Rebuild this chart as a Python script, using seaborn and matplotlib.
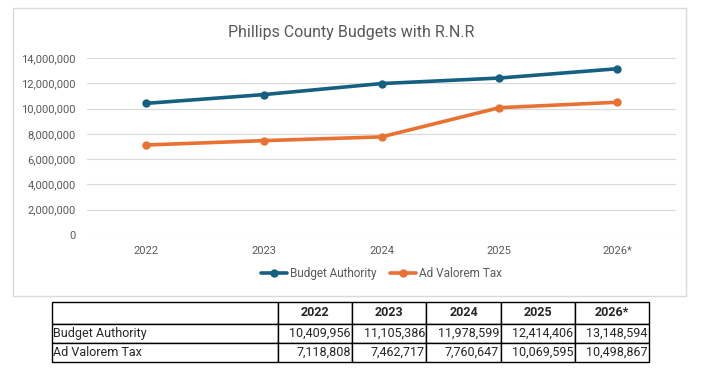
import matplotlib
matplotlib.use("Agg")
import matplotlib.pyplot as plt
import pandas as pd
import seaborn as sns
from matplotlib.patches import Rectangle
from matplotlib.ticker import FuncFormatter

years = ["2022", "2023", "2024", "2025", "2026*"]
budget_authority = [10409956, 11105386, 11978599, 12414406, 13148594]
ad_valorem_tax = [7118808, 7462717, 7760647, 10069595, 10498867]
series_names = ["Budget Authority", "Ad Valorem Tax"]
colors = ["#156082", "#E97132"]


def main():
    sns.set_style("white")
    plt.rcParams["font.family"] = ["Roboto", "DejaVu Sans"]

    df = pd.DataFrame({"Year": years * 2,
                       "Value": budget_authority + ad_valorem_tax,
                       "Series": [series_names[0]] * 5 + [series_names[1]] * 5})

    fig = plt.figure(figsize=(7.03, 3.82), dpi=100)
    fig.patches.append(Rectangle((13 / 703, 1 - 296 / 382), 673 / 703, 288 / 382,
                                 transform=fig.transFigure, fill=False,
                                 edgecolor="#d9d9d9", linewidth=1))

    ax = fig.add_axes([87 / 703, 1 - 235 / 382, 589 / 703, 177 / 382])
    sns.lineplot(data=df, x="Year", y="Value", hue="Series", palette=colors,
                 marker="o", markersize=6, markeredgewidth=0, linewidth=2.6,
                 sort=False, ax=ax)
    ax.set_xlim(-0.5, 4.5)
    ax.set_ylim(0, 14000000)
    ax.set_yticks(range(0, 14000001, 2000000))
    ax.yaxis.set_major_formatter(FuncFormatter(lambda v, p: f"{int(v):,}"))
    ax.grid(axis="y", color="#d9d9d9", linewidth=0.8)
    ax.set_axisbelow(True)
    for s in ax.spines.values():
        s.set_visible(False)
    ax.tick_params(axis="both", length=0, labelsize=8, colors="#595959", pad=8)
    ax.set_xlabel("")
    ax.set_ylabel("")
    ax.legend(loc="center", bbox_to_anchor=(0.5, -0.22), ncol=2, frameon=False,
              fontsize=8.5, labelcolor="#595959", handlelength=2.2,
              handletextpad=0.2, columnspacing=1.2)

    fig.text(0.5, 1 - 32 / 382, "Phillips County Budgets with R.N.R",
             ha="center", va="center", fontsize=11.5, color="#595959")

    # table under the chart
    tax = fig.add_axes([52 / 703, 1 - 362 / 382, 597 / 703, 60 / 382])
    tax.axis("off")
    cells = [[""] + years,
             [series_names[0]] + [f"{v:,}" for v in budget_authority],
             [series_names[1]] + [f"{v:,}" for v in ad_valorem_tax]]
    first = 226 / 597
    other = (1 - first) / 5
    tbl = tax.table(cellText=cells, colWidths=[first] + [other] * 5,
                    bbox=[0, 0, 1, 1])
    tbl.auto_set_font_size(False)
    heights = [22 / 60, 19 / 60, 19 / 60]
    for (r, c), cell in tbl.get_celld().items():
        cell.set_edgecolor("black")
        cell.set_linewidth(1)
        cell.set_height(heights[r])
        cell.get_text().set_fontsize(9)
        if r == 0:
            cell.get_text().set_fontweight("bold")
            cell._loc = "center"
            cell.get_text().set_ha("center")
        elif c == 0:
            cell._loc = "left"
            cell.PAD = 0.005
            cell.get_text().set_ha("left")
        else:
            cell._loc = "right"
            cell.PAD = 0.02
            cell.get_text().set_ha("right")

    fig.savefig("out.png", dpi=100)


if __name__ == "__main__":
    main()
